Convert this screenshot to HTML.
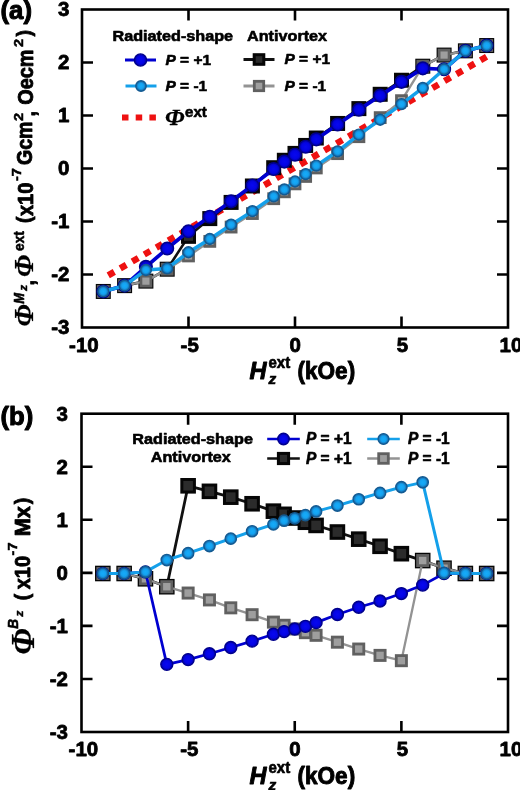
<!DOCTYPE html>
<html><head><meta charset="utf-8"><title>Figure</title>
<style>html,body{margin:0;padding:0;background:#fff}svg{display:block;filter:blur(0.4px)}</style>
</head><body>
<svg width="520" height="790" viewBox="0 0 520 790" font-family='"Liberation Sans", sans-serif' font-weight="bold" fill="#000">
<defs><radialGradient id="glb" cx="50%" cy="50%" r="50%"><stop offset="0" stop-color="#16acfa"/><stop offset="0.5" stop-color="#14a2f0"/><stop offset="0.78" stop-color="#187cc0"/><stop offset="1" stop-color="#145e98"/></radialGradient><radialGradient id="gdb" cx="50%" cy="50%" r="50%"><stop offset="0" stop-color="#0808f0"/><stop offset="0.6" stop-color="#0404e4"/><stop offset="0.85" stop-color="#0202c0"/><stop offset="1" stop-color="#000096"/></radialGradient></defs>
<rect width="520" height="790" fill="#fff"/>
<rect x="82" y="9.5" width="426" height="318.0" fill="none" stroke="#000" stroke-width="2.6"/><path d="M188.50 327.5v-11M188.50 9.5v11" stroke="#000" stroke-width="2.6"/><path d="M295.00 327.5v-11M295.00 9.5v11" stroke="#000" stroke-width="2.6"/><path d="M401.50 327.5v-11M401.50 9.5v11" stroke="#000" stroke-width="2.6"/><path d="M82 274.50h11M508 274.50h-11" stroke="#000" stroke-width="2.6"/><path d="M82 221.50h11M508 221.50h-11" stroke="#000" stroke-width="2.6"/><path d="M82 168.50h11M508 168.50h-11" stroke="#000" stroke-width="2.6"/><path d="M82 115.50h11M508 115.50h-11" stroke="#000" stroke-width="2.6"/><path d="M82 62.50h11M508 62.50h-11" stroke="#000" stroke-width="2.6"/>
<path d="M103.30 278.21L486.70 56.67" stroke="#ee1111" stroke-width="6.5" stroke-dasharray="7 6.87" stroke-dashoffset="-5.7" fill="none"/>
<polyline points="103.30,291.46 124.60,285.63 145.90,281.12 167.20,269.20 188.50,236.34 209.80,218.59 231.10,202.42 252.40,185.99 273.70,167.70 284.35,160.28 295.00,153.40 305.65,145.44 316.30,138.03 337.60,123.45 358.90,108.61 380.20,94.30 401.50,80.25 422.80,66.21 444.10,55.08 465.40,50.84 486.70,45.54" fill="none" stroke="#111" stroke-width="2.6" stroke-linejoin="round"/><rect x="97.30" y="285.46" width="12.00" height="12.0" fill="#2b2b2b" stroke="#060606" stroke-width="3.0"/><rect x="118.60" y="279.63" width="12.00" height="12.0" fill="#2b2b2b" stroke="#060606" stroke-width="3.0"/><rect x="139.90" y="275.12" width="12.00" height="12.0" fill="#2b2b2b" stroke="#060606" stroke-width="3.0"/><rect x="161.20" y="263.20" width="12.00" height="12.0" fill="#2b2b2b" stroke="#060606" stroke-width="3.0"/><rect x="182.50" y="230.34" width="12.00" height="12.0" fill="#2b2b2b" stroke="#060606" stroke-width="3.0"/><rect x="203.80" y="212.59" width="12.00" height="12.0" fill="#2b2b2b" stroke="#060606" stroke-width="3.0"/><rect x="225.10" y="196.42" width="12.00" height="12.0" fill="#2b2b2b" stroke="#060606" stroke-width="3.0"/><rect x="246.40" y="179.99" width="12.00" height="12.0" fill="#2b2b2b" stroke="#060606" stroke-width="3.0"/><rect x="267.70" y="161.70" width="12.00" height="12.0" fill="#2b2b2b" stroke="#060606" stroke-width="3.0"/><rect x="278.35" y="154.28" width="12.00" height="12.0" fill="#2b2b2b" stroke="#060606" stroke-width="3.0"/><rect x="289.00" y="147.40" width="12.00" height="12.0" fill="#2b2b2b" stroke="#060606" stroke-width="3.0"/><rect x="299.65" y="139.44" width="12.00" height="12.0" fill="#2b2b2b" stroke="#060606" stroke-width="3.0"/><rect x="310.30" y="132.03" width="12.00" height="12.0" fill="#2b2b2b" stroke="#060606" stroke-width="3.0"/><rect x="331.60" y="117.45" width="12.00" height="12.0" fill="#2b2b2b" stroke="#060606" stroke-width="3.0"/><rect x="352.90" y="102.61" width="12.00" height="12.0" fill="#2b2b2b" stroke="#060606" stroke-width="3.0"/><rect x="374.20" y="88.30" width="12.00" height="12.0" fill="#2b2b2b" stroke="#060606" stroke-width="3.0"/><rect x="395.50" y="74.25" width="12.00" height="12.0" fill="#2b2b2b" stroke="#060606" stroke-width="3.0"/><rect x="416.80" y="60.21" width="12.00" height="12.0" fill="#2b2b2b" stroke="#060606" stroke-width="3.0"/><rect x="438.10" y="49.08" width="12.00" height="12.0" fill="#2b2b2b" stroke="#060606" stroke-width="3.0"/><rect x="459.40" y="44.84" width="12.00" height="12.0" fill="#2b2b2b" stroke="#060606" stroke-width="3.0"/><rect x="480.70" y="39.54" width="12.00" height="12.0" fill="#2b2b2b" stroke="#060606" stroke-width="3.0"/>
<polyline points="103.30,291.46 124.60,285.63 145.90,281.12 167.20,269.20 188.50,255.95 209.80,241.38 231.10,227.07 252.40,213.55 273.70,198.71 284.35,191.82 295.00,183.87 305.65,176.45 316.30,167.97 337.60,153.66 358.90,136.70 380.20,117.62 401.50,100.66 422.80,66.21 444.10,55.08 465.40,50.84 486.70,45.54" fill="none" stroke="#939393" stroke-width="2.4" stroke-linejoin="round"/><rect x="98.30" y="286.46" width="10.00" height="10.0" fill="#9e9e9e" stroke="#606060" stroke-width="2.8"/><rect x="119.60" y="280.63" width="10.00" height="10.0" fill="#9e9e9e" stroke="#606060" stroke-width="2.8"/><rect x="140.90" y="276.12" width="10.00" height="10.0" fill="#9e9e9e" stroke="#606060" stroke-width="2.8"/><rect x="162.20" y="264.20" width="10.00" height="10.0" fill="#9e9e9e" stroke="#606060" stroke-width="2.8"/><rect x="183.50" y="250.95" width="10.00" height="10.0" fill="#9e9e9e" stroke="#606060" stroke-width="2.8"/><rect x="204.80" y="236.38" width="10.00" height="10.0" fill="#9e9e9e" stroke="#606060" stroke-width="2.8"/><rect x="226.10" y="222.07" width="10.00" height="10.0" fill="#9e9e9e" stroke="#606060" stroke-width="2.8"/><rect x="247.40" y="208.55" width="10.00" height="10.0" fill="#9e9e9e" stroke="#606060" stroke-width="2.8"/><rect x="268.70" y="193.71" width="10.00" height="10.0" fill="#9e9e9e" stroke="#606060" stroke-width="2.8"/><rect x="279.35" y="186.82" width="10.00" height="10.0" fill="#9e9e9e" stroke="#606060" stroke-width="2.8"/><rect x="290.00" y="178.87" width="10.00" height="10.0" fill="#9e9e9e" stroke="#606060" stroke-width="2.8"/><rect x="300.65" y="171.45" width="10.00" height="10.0" fill="#9e9e9e" stroke="#606060" stroke-width="2.8"/><rect x="311.30" y="162.97" width="10.00" height="10.0" fill="#9e9e9e" stroke="#606060" stroke-width="2.8"/><rect x="332.60" y="148.66" width="10.00" height="10.0" fill="#9e9e9e" stroke="#606060" stroke-width="2.8"/><rect x="353.90" y="131.70" width="10.00" height="10.0" fill="#9e9e9e" stroke="#606060" stroke-width="2.8"/><rect x="375.20" y="112.62" width="10.00" height="10.0" fill="#9e9e9e" stroke="#606060" stroke-width="2.8"/><rect x="396.50" y="95.66" width="10.00" height="10.0" fill="#9e9e9e" stroke="#606060" stroke-width="2.8"/><rect x="417.80" y="61.21" width="10.00" height="10.0" fill="#9e9e9e" stroke="#606060" stroke-width="2.8"/><rect x="439.10" y="50.08" width="10.00" height="10.0" fill="#9e9e9e" stroke="#606060" stroke-width="2.8"/><rect x="460.40" y="45.84" width="10.00" height="10.0" fill="#9e9e9e" stroke="#606060" stroke-width="2.8"/><rect x="481.70" y="40.54" width="10.00" height="10.0" fill="#9e9e9e" stroke="#606060" stroke-width="2.8"/>
<polyline points="103.30,291.46 124.60,285.63 145.90,266.81 167.20,248.53 188.50,231.31 209.80,216.73 231.10,201.36 252.40,185.46 273.70,169.03 284.35,161.61 295.00,154.72 305.65,146.77 316.30,139.35 337.60,124.51 358.90,109.67 380.20,95.62 401.50,81.84 422.80,68.33 444.10,69.23 465.40,50.84 486.70,45.54" fill="none" stroke="#0000d0" stroke-width="3.7" stroke-linejoin="round"/><ellipse cx="103.30" cy="291.46" rx="6.35" ry="6.35" fill="url(#gdb)" stroke="#00008c" stroke-width="1.4"/><ellipse cx="124.60" cy="285.63" rx="6.35" ry="6.35" fill="url(#gdb)" stroke="#00008c" stroke-width="1.4"/><ellipse cx="145.90" cy="266.81" rx="6.35" ry="6.35" fill="url(#gdb)" stroke="#00008c" stroke-width="1.4"/><ellipse cx="167.20" cy="248.53" rx="6.35" ry="6.35" fill="url(#gdb)" stroke="#00008c" stroke-width="1.4"/><ellipse cx="188.50" cy="231.31" rx="6.35" ry="6.35" fill="url(#gdb)" stroke="#00008c" stroke-width="1.4"/><ellipse cx="209.80" cy="216.73" rx="6.35" ry="6.35" fill="url(#gdb)" stroke="#00008c" stroke-width="1.4"/><ellipse cx="231.10" cy="201.36" rx="6.35" ry="6.35" fill="url(#gdb)" stroke="#00008c" stroke-width="1.4"/><ellipse cx="252.40" cy="185.46" rx="6.35" ry="6.35" fill="url(#gdb)" stroke="#00008c" stroke-width="1.4"/><ellipse cx="273.70" cy="169.03" rx="6.35" ry="6.35" fill="url(#gdb)" stroke="#00008c" stroke-width="1.4"/><ellipse cx="284.35" cy="161.61" rx="6.35" ry="6.35" fill="url(#gdb)" stroke="#00008c" stroke-width="1.4"/><ellipse cx="295.00" cy="154.72" rx="6.35" ry="6.35" fill="url(#gdb)" stroke="#00008c" stroke-width="1.4"/><ellipse cx="305.65" cy="146.77" rx="6.35" ry="6.35" fill="url(#gdb)" stroke="#00008c" stroke-width="1.4"/><ellipse cx="316.30" cy="139.35" rx="6.35" ry="6.35" fill="url(#gdb)" stroke="#00008c" stroke-width="1.4"/><ellipse cx="337.60" cy="124.51" rx="6.35" ry="6.35" fill="url(#gdb)" stroke="#00008c" stroke-width="1.4"/><ellipse cx="358.90" cy="109.67" rx="6.35" ry="6.35" fill="url(#gdb)" stroke="#00008c" stroke-width="1.4"/><ellipse cx="380.20" cy="95.62" rx="6.35" ry="6.35" fill="url(#gdb)" stroke="#00008c" stroke-width="1.4"/><ellipse cx="401.50" cy="81.84" rx="6.35" ry="6.35" fill="url(#gdb)" stroke="#00008c" stroke-width="1.4"/><ellipse cx="422.80" cy="68.33" rx="6.35" ry="6.35" fill="url(#gdb)" stroke="#00008c" stroke-width="1.4"/><ellipse cx="444.10" cy="69.23" rx="6.35" ry="6.35" fill="url(#gdb)" stroke="#00008c" stroke-width="1.4"/><ellipse cx="465.40" cy="50.84" rx="6.35" ry="6.35" fill="url(#gdb)" stroke="#00008c" stroke-width="1.4"/><ellipse cx="486.70" cy="45.54" rx="6.35" ry="6.35" fill="url(#gdb)" stroke="#00008c" stroke-width="1.4"/>
<polyline points="103.30,291.46 124.60,285.63 145.90,270.00 167.20,268.40 188.50,252.24 209.80,238.99 231.10,224.68 252.40,211.16 273.70,196.33 284.35,189.43 295.00,181.49 305.65,174.06 316.30,165.59 337.60,151.28 358.90,134.58 380.20,119.74 401.50,104.11 422.80,87.94 444.10,69.23 465.40,50.84 486.70,45.54" fill="none" stroke="#14a0ea" stroke-width="3.5" stroke-linejoin="round"/><ellipse cx="103.30" cy="291.46" rx="5.45" ry="5.45" fill="url(#glb)" stroke="#135a92" stroke-width="1.4"/><ellipse cx="124.60" cy="285.63" rx="5.45" ry="5.45" fill="url(#glb)" stroke="#135a92" stroke-width="1.4"/><ellipse cx="145.90" cy="270.00" rx="5.45" ry="5.45" fill="url(#glb)" stroke="#135a92" stroke-width="1.4"/><ellipse cx="167.20" cy="268.40" rx="5.45" ry="5.45" fill="url(#glb)" stroke="#135a92" stroke-width="1.4"/><ellipse cx="188.50" cy="252.24" rx="5.45" ry="5.45" fill="url(#glb)" stroke="#135a92" stroke-width="1.4"/><ellipse cx="209.80" cy="238.99" rx="5.45" ry="5.45" fill="url(#glb)" stroke="#135a92" stroke-width="1.4"/><ellipse cx="231.10" cy="224.68" rx="5.45" ry="5.45" fill="url(#glb)" stroke="#135a92" stroke-width="1.4"/><ellipse cx="252.40" cy="211.16" rx="5.45" ry="5.45" fill="url(#glb)" stroke="#135a92" stroke-width="1.4"/><ellipse cx="273.70" cy="196.33" rx="5.45" ry="5.45" fill="url(#glb)" stroke="#135a92" stroke-width="1.4"/><ellipse cx="284.35" cy="189.43" rx="5.45" ry="5.45" fill="url(#glb)" stroke="#135a92" stroke-width="1.4"/><ellipse cx="295.00" cy="181.49" rx="5.45" ry="5.45" fill="url(#glb)" stroke="#135a92" stroke-width="1.4"/><ellipse cx="305.65" cy="174.06" rx="5.45" ry="5.45" fill="url(#glb)" stroke="#135a92" stroke-width="1.4"/><ellipse cx="316.30" cy="165.59" rx="5.45" ry="5.45" fill="url(#glb)" stroke="#135a92" stroke-width="1.4"/><ellipse cx="337.60" cy="151.28" rx="5.45" ry="5.45" fill="url(#glb)" stroke="#135a92" stroke-width="1.4"/><ellipse cx="358.90" cy="134.58" rx="5.45" ry="5.45" fill="url(#glb)" stroke="#135a92" stroke-width="1.4"/><ellipse cx="380.20" cy="119.74" rx="5.45" ry="5.45" fill="url(#glb)" stroke="#135a92" stroke-width="1.4"/><ellipse cx="401.50" cy="104.11" rx="5.45" ry="5.45" fill="url(#glb)" stroke="#135a92" stroke-width="1.4"/><ellipse cx="422.80" cy="87.94" rx="5.45" ry="5.45" fill="url(#glb)" stroke="#135a92" stroke-width="1.4"/><ellipse cx="444.10" cy="69.23" rx="5.45" ry="5.45" fill="url(#glb)" stroke="#135a92" stroke-width="1.4"/><ellipse cx="465.40" cy="50.84" rx="5.45" ry="5.45" fill="url(#glb)" stroke="#135a92" stroke-width="1.4"/><ellipse cx="486.70" cy="45.54" rx="5.45" ry="5.45" fill="url(#glb)" stroke="#135a92" stroke-width="1.4"/>
<text transform="translate(69.50,16.40) scale(1.05,1)" font-size="19.5" text-anchor="end" stroke="#000" stroke-width="0.78" stroke-linejoin="round" >3</text>
<text transform="translate(69.50,69.40) scale(1.05,1)" font-size="19.5" text-anchor="end" stroke="#000" stroke-width="0.78" stroke-linejoin="round" >2</text>
<text transform="translate(69.50,122.40) scale(1.05,1)" font-size="19.5" text-anchor="end" stroke="#000" stroke-width="0.78" stroke-linejoin="round" >1</text>
<text transform="translate(69.50,175.40) scale(1.05,1)" font-size="19.5" text-anchor="end" stroke="#000" stroke-width="0.78" stroke-linejoin="round" >0</text>
<text transform="translate(69.50,228.40) scale(1.05,1)" font-size="19.5" text-anchor="end" stroke="#000" stroke-width="0.78" stroke-linejoin="round" >-1</text>
<text transform="translate(69.50,281.40) scale(1.05,1)" font-size="19.5" text-anchor="end" stroke="#000" stroke-width="0.78" stroke-linejoin="round" >-2</text>
<text transform="translate(69.50,334.40) scale(1.05,1)" font-size="19.5" text-anchor="end" stroke="#000" stroke-width="0.78" stroke-linejoin="round" >-3</text>
<text transform="translate(83.90,351.80) scale(1.05,1)" font-size="19.5" text-anchor="middle" stroke="#000" stroke-width="0.78" stroke-linejoin="round" >-10</text>
<text transform="translate(189.70,351.80) scale(1.05,1)" font-size="19.5" text-anchor="middle" stroke="#000" stroke-width="0.78" stroke-linejoin="round" >-5</text>
<text transform="translate(295.20,351.80) scale(1.05,1)" font-size="19.5" text-anchor="middle" stroke="#000" stroke-width="0.78" stroke-linejoin="round" >0</text>
<text transform="translate(402.50,351.80) scale(1.05,1)" font-size="19.5" text-anchor="middle" stroke="#000" stroke-width="0.78" stroke-linejoin="round" >5</text>
<text transform="translate(511.00,351.80) scale(1.05,1)" font-size="19.5" text-anchor="middle" stroke="#000" stroke-width="0.78" stroke-linejoin="round" >10</text>
<text transform="translate(0.50,19.20) scale(1.03,1)" font-size="25" text-anchor="start" stroke="#000" stroke-width="1.00" stroke-linejoin="round" >(a)</text>
<text transform="translate(249.50,378.80) scale(1.0,1)" font-size="23.5" text-anchor="start" stroke="#000" stroke-width="0.94" stroke-linejoin="round" font-style="italic">H</text>
<text transform="translate(268.50,367.80) scale(0.94,1)" font-size="16" text-anchor="start" stroke="#000" stroke-width="0.64" stroke-linejoin="round" >ext</text>
<text transform="translate(268.50,384.40) scale(1.0,1)" font-size="15.5" text-anchor="start" stroke="#000" stroke-width="0.62" stroke-linejoin="round" font-style="italic">z</text>
<text transform="translate(297.50,378.80) scale(0.94,1)" font-size="24" text-anchor="start" stroke="#000" stroke-width="0.96" stroke-linejoin="round" >(kOe)</text>
<text transform="translate(32.70,326.50) rotate(-90) scale(1,1)" font-size="28" text-anchor="start" stroke="#000" stroke-width="0.25" stroke-linejoin="round" font-family='"Liberation Serif", serif' font-style="italic">Φ</text>
<text transform="translate(23.70,303.80) rotate(-90) scale(0.86,1)" font-size="15" text-anchor="start" stroke="#000" stroke-width="0.60" stroke-linejoin="round" font-style="italic">M</text>
<text transform="translate(27.20,291.00) rotate(-90) scale(1.08,1)" font-size="11.5" text-anchor="start" stroke="#000" stroke-width="0.46" stroke-linejoin="round" font-style="italic">z</text>
<text transform="translate(33.70,285.50) rotate(-90) scale(0.935,1)" font-size="21.3" text-anchor="start" stroke="#000" stroke-width="0.85" stroke-linejoin="round" >,</text>
<text transform="translate(32.70,277.00) rotate(-90) scale(1,1)" font-size="28" text-anchor="start" stroke="#000" stroke-width="0.25" stroke-linejoin="round" font-family='"Liberation Serif", serif' font-style="italic">Φ</text>
<text transform="translate(23.70,251.00) rotate(-90) scale(0.98,1)" font-size="14" text-anchor="start" stroke="#000" stroke-width="0.56" stroke-linejoin="round" >ext</text>
<text transform="translate(31.20,223.00) rotate(-90) scale(1.0,1)" font-size="19.5" text-anchor="start" stroke="#000" stroke-width="0.78" stroke-linejoin="round" >(</text>
<text transform="translate(32.70,216.00) rotate(-90) scale(0.935,1)" font-size="21.3" text-anchor="start" stroke="#000" stroke-width="0.85" stroke-linejoin="round" >x10</text>
<text transform="translate(20.70,181.00) rotate(-90) scale(1.08,1)" font-size="13.5" text-anchor="start" stroke="#000" stroke-width="0.54" stroke-linejoin="round" >-7</text>
<text transform="translate(32.10,165.00) rotate(-90) scale(0.92,1)" font-size="21.3" text-anchor="start" stroke="#000" stroke-width="0.85" stroke-linejoin="round" >Gcm</text>
<text transform="translate(22.70,121.00) rotate(-90) scale(1.08,1)" font-size="13.5" text-anchor="start" stroke="#000" stroke-width="0.54" stroke-linejoin="round" >2</text>
<text transform="translate(35.20,116.50) rotate(-90) scale(0.935,1)" font-size="21.3" text-anchor="start" stroke="#000" stroke-width="0.85" stroke-linejoin="round" >,</text>
<text transform="translate(32.70,104.80) rotate(-90) scale(0.935,1)" font-size="21.3" text-anchor="start" stroke="#000" stroke-width="0.85" stroke-linejoin="round" >Oecm</text>
<text transform="translate(22.70,47.00) rotate(-90) scale(1.08,1)" font-size="13.5" text-anchor="start" stroke="#000" stroke-width="0.54" stroke-linejoin="round" >2</text>
<text transform="translate(30.70,36.50) rotate(-90) scale(1.0,1)" font-size="19.5" text-anchor="start" stroke="#000" stroke-width="0.78" stroke-linejoin="round" >)</text>
<text transform="translate(112.50,40.70) scale(1.08,1)" font-size="15" text-anchor="start" stroke="#000" stroke-width="0.60" stroke-linejoin="round" >Radiated-shape</text>
<text transform="translate(247.00,40.50) scale(1.08,1)" font-size="15" text-anchor="start" stroke="#000" stroke-width="0.60" stroke-linejoin="round" >Antivortex</text>
<path d="M125.0 60h31.0" stroke="#0000d0" stroke-width="3.0"/>
<ellipse cx="140.50" cy="60.00" rx="6.10" ry="6.10" fill="url(#gdb)" stroke="#00008c" stroke-width="1.4"/>
<text transform="translate(165.50,64.80) scale(1.03,1)" font-size="15" text-anchor="start" stroke="#000" stroke-width="0.60" stroke-linejoin="round" ><tspan font-style="italic">P</tspan> = +1</text>
<path d="M125.5 86h31.0" stroke="#14a0ea" stroke-width="3.0"/>
<ellipse cx="141.00" cy="86.00" rx="5.20" ry="5.20" fill="url(#glb)" stroke="#135a92" stroke-width="1.4"/>
<text transform="translate(165.50,90.80) scale(1.03,1)" font-size="15" text-anchor="start" stroke="#000" stroke-width="0.60" stroke-linejoin="round" ><tspan font-style="italic">P</tspan> = -1</text>
<path d="M243.5 59.5h31.0" stroke="#111" stroke-width="3.0"/>
<rect x="254.20" y="54.70" width="9.60" height="9.6" fill="#2b2b2b" stroke="#060606" stroke-width="3.0"/>
<text transform="translate(284.50,64.30) scale(1.03,1)" font-size="15" text-anchor="start" stroke="#000" stroke-width="0.60" stroke-linejoin="round" ><tspan font-style="italic">P</tspan> = +1</text>
<path d="M243.5 86h31.0" stroke="#939393" stroke-width="3.0"/>
<rect x="254.30" y="81.30" width="9.40" height="9.4" fill="#9e9e9e" stroke="#606060" stroke-width="2.8"/>
<text transform="translate(284.50,90.80) scale(1.03,1)" font-size="15" text-anchor="start" stroke="#000" stroke-width="0.60" stroke-linejoin="round" ><tspan font-style="italic">P</tspan> = -1</text>
<path d="M122 117.5h36" stroke="#ee1111" stroke-width="6" stroke-dasharray="6.5 7.2"/>
<text transform="translate(165.00,125.00) scale(1.08,1)" font-size="23" text-anchor="start" stroke="#000" stroke-width="0.25" stroke-linejoin="round" font-family='"Liberation Serif", serif' font-style="italic">Φ</text>
<text transform="translate(185.00,116.50) scale(1.08,1)" font-size="14" text-anchor="start" stroke="#000" stroke-width="0.56" stroke-linejoin="round" >ext</text>
<rect x="81.5" y="413.7" width="426.5" height="318.3" fill="none" stroke="#000" stroke-width="2.6"/><path d="M188.12 732v-11M188.12 413.7v11" stroke="#000" stroke-width="2.6"/><path d="M294.75 732v-11M294.75 413.7v11" stroke="#000" stroke-width="2.6"/><path d="M401.38 732v-11M401.38 413.7v11" stroke="#000" stroke-width="2.6"/><path d="M81.5 678.95h11M508 678.95h-11" stroke="#000" stroke-width="2.6"/><path d="M81.5 625.90h11M508 625.90h-11" stroke="#000" stroke-width="2.6"/><path d="M81.5 572.85h11M508 572.85h-11" stroke="#000" stroke-width="2.6"/><path d="M81.5 519.80h11M508 519.80h-11" stroke="#000" stroke-width="2.6"/><path d="M81.5 466.75h11M508 466.75h-11" stroke="#000" stroke-width="2.6"/>
<polyline points="102.83,573.50 124.15,573.50 145.47,578.78 166.80,586.71 188.12,485.80 209.45,491.34 230.78,497.16 252.10,503.76 273.43,511.16 284.09,514.33 294.75,518.02 305.41,522.25 316.07,525.42 337.40,532.03 358.73,539.16 380.05,546.29 401.38,553.69 422.70,560.56 444.02,568.22 465.35,573.50 486.68,573.50" fill="none" stroke="#111" stroke-width="2.8" stroke-linejoin="round"/><rect x="96.53" y="567.20" width="12.60" height="12.6" fill="#2b2b2b" stroke="#060606" stroke-width="3.0"/><rect x="117.85" y="567.20" width="12.60" height="12.6" fill="#2b2b2b" stroke="#060606" stroke-width="3.0"/><rect x="139.17" y="572.48" width="12.60" height="12.6" fill="#2b2b2b" stroke="#060606" stroke-width="3.0"/><rect x="160.50" y="580.41" width="12.60" height="12.6" fill="#2b2b2b" stroke="#060606" stroke-width="3.0"/><rect x="181.82" y="479.50" width="12.60" height="12.6" fill="#2b2b2b" stroke="#060606" stroke-width="3.0"/><rect x="203.15" y="485.04" width="12.60" height="12.6" fill="#2b2b2b" stroke="#060606" stroke-width="3.0"/><rect x="224.47" y="490.86" width="12.60" height="12.6" fill="#2b2b2b" stroke="#060606" stroke-width="3.0"/><rect x="245.80" y="497.46" width="12.60" height="12.6" fill="#2b2b2b" stroke="#060606" stroke-width="3.0"/><rect x="267.12" y="504.86" width="12.60" height="12.6" fill="#2b2b2b" stroke="#060606" stroke-width="3.0"/><rect x="277.79" y="508.03" width="12.60" height="12.6" fill="#2b2b2b" stroke="#060606" stroke-width="3.0"/><rect x="288.45" y="511.72" width="12.60" height="12.6" fill="#2b2b2b" stroke="#060606" stroke-width="3.0"/><rect x="299.11" y="515.95" width="12.60" height="12.6" fill="#2b2b2b" stroke="#060606" stroke-width="3.0"/><rect x="309.77" y="519.12" width="12.60" height="12.6" fill="#2b2b2b" stroke="#060606" stroke-width="3.0"/><rect x="331.10" y="525.73" width="12.60" height="12.6" fill="#2b2b2b" stroke="#060606" stroke-width="3.0"/><rect x="352.43" y="532.86" width="12.60" height="12.6" fill="#2b2b2b" stroke="#060606" stroke-width="3.0"/><rect x="373.75" y="539.99" width="12.60" height="12.6" fill="#2b2b2b" stroke="#060606" stroke-width="3.0"/><rect x="395.07" y="547.39" width="12.60" height="12.6" fill="#2b2b2b" stroke="#060606" stroke-width="3.0"/><rect x="416.40" y="554.26" width="12.60" height="12.6" fill="#2b2b2b" stroke="#060606" stroke-width="3.0"/><rect x="437.72" y="561.92" width="12.60" height="12.6" fill="#2b2b2b" stroke="#060606" stroke-width="3.0"/><rect x="459.05" y="567.20" width="12.60" height="12.6" fill="#2b2b2b" stroke="#060606" stroke-width="3.0"/><rect x="480.38" y="567.20" width="12.60" height="12.6" fill="#2b2b2b" stroke="#060606" stroke-width="3.0"/>
<polyline points="102.83,573.50 124.15,573.50 145.47,578.78 166.80,586.71 188.12,593.05 209.45,599.92 230.78,607.84 252.10,614.71 273.43,622.11 284.09,625.28 294.75,628.98 305.41,632.67 316.07,635.31 337.40,642.18 358.73,649.05 380.05,655.39 401.38,660.68 422.70,560.56 444.02,568.22 465.35,573.50 486.68,573.50" fill="none" stroke="#939393" stroke-width="2.3" stroke-linejoin="round"/><rect x="97.73" y="568.40" width="10.20" height="10.2" fill="#9e9e9e" stroke="#606060" stroke-width="2.8"/><rect x="119.05" y="568.40" width="10.20" height="10.2" fill="#9e9e9e" stroke="#606060" stroke-width="2.8"/><rect x="140.38" y="573.68" width="10.20" height="10.2" fill="#9e9e9e" stroke="#606060" stroke-width="2.8"/><rect x="161.70" y="581.61" width="10.20" height="10.2" fill="#9e9e9e" stroke="#606060" stroke-width="2.8"/><rect x="183.03" y="587.95" width="10.20" height="10.2" fill="#9e9e9e" stroke="#606060" stroke-width="2.8"/><rect x="204.35" y="594.82" width="10.20" height="10.2" fill="#9e9e9e" stroke="#606060" stroke-width="2.8"/><rect x="225.68" y="602.74" width="10.20" height="10.2" fill="#9e9e9e" stroke="#606060" stroke-width="2.8"/><rect x="247.00" y="609.61" width="10.20" height="10.2" fill="#9e9e9e" stroke="#606060" stroke-width="2.8"/><rect x="268.32" y="617.01" width="10.20" height="10.2" fill="#9e9e9e" stroke="#606060" stroke-width="2.8"/><rect x="278.99" y="620.18" width="10.20" height="10.2" fill="#9e9e9e" stroke="#606060" stroke-width="2.8"/><rect x="289.65" y="623.88" width="10.20" height="10.2" fill="#9e9e9e" stroke="#606060" stroke-width="2.8"/><rect x="300.31" y="627.57" width="10.20" height="10.2" fill="#9e9e9e" stroke="#606060" stroke-width="2.8"/><rect x="310.97" y="630.21" width="10.20" height="10.2" fill="#9e9e9e" stroke="#606060" stroke-width="2.8"/><rect x="332.30" y="637.08" width="10.20" height="10.2" fill="#9e9e9e" stroke="#606060" stroke-width="2.8"/><rect x="353.62" y="643.95" width="10.20" height="10.2" fill="#9e9e9e" stroke="#606060" stroke-width="2.8"/><rect x="374.95" y="650.29" width="10.20" height="10.2" fill="#9e9e9e" stroke="#606060" stroke-width="2.8"/><rect x="396.27" y="655.58" width="10.20" height="10.2" fill="#9e9e9e" stroke="#606060" stroke-width="2.8"/><rect x="417.60" y="555.46" width="10.20" height="10.2" fill="#9e9e9e" stroke="#606060" stroke-width="2.8"/><rect x="438.92" y="563.12" width="10.20" height="10.2" fill="#9e9e9e" stroke="#606060" stroke-width="2.8"/><rect x="460.25" y="568.40" width="10.20" height="10.2" fill="#9e9e9e" stroke="#606060" stroke-width="2.8"/><rect x="481.57" y="568.40" width="10.20" height="10.2" fill="#9e9e9e" stroke="#606060" stroke-width="2.8"/>
<polyline points="102.83,573.50 124.15,573.50 145.47,571.91 166.80,664.37 188.12,659.62 209.45,653.81 230.78,647.47 252.10,641.13 273.43,634.26 284.09,631.62 294.75,628.98 305.41,626.33 316.07,622.63 337.40,614.45 358.73,607.31 380.05,600.97 401.38,593.58 422.70,585.12 444.02,573.50 465.35,573.50 486.68,573.50" fill="none" stroke="#0000d0" stroke-width="2.7" stroke-linejoin="round"/><ellipse cx="102.83" cy="573.50" rx="6.00" ry="6.00" fill="url(#gdb)" stroke="#00008c" stroke-width="1.4"/><ellipse cx="124.15" cy="573.50" rx="6.00" ry="6.00" fill="url(#gdb)" stroke="#00008c" stroke-width="1.4"/><ellipse cx="145.47" cy="571.91" rx="6.00" ry="6.00" fill="url(#gdb)" stroke="#00008c" stroke-width="1.4"/><ellipse cx="166.80" cy="664.37" rx="6.00" ry="6.00" fill="url(#gdb)" stroke="#00008c" stroke-width="1.4"/><ellipse cx="188.12" cy="659.62" rx="6.00" ry="6.00" fill="url(#gdb)" stroke="#00008c" stroke-width="1.4"/><ellipse cx="209.45" cy="653.81" rx="6.00" ry="6.00" fill="url(#gdb)" stroke="#00008c" stroke-width="1.4"/><ellipse cx="230.78" cy="647.47" rx="6.00" ry="6.00" fill="url(#gdb)" stroke="#00008c" stroke-width="1.4"/><ellipse cx="252.10" cy="641.13" rx="6.00" ry="6.00" fill="url(#gdb)" stroke="#00008c" stroke-width="1.4"/><ellipse cx="273.43" cy="634.26" rx="6.00" ry="6.00" fill="url(#gdb)" stroke="#00008c" stroke-width="1.4"/><ellipse cx="284.09" cy="631.62" rx="6.00" ry="6.00" fill="url(#gdb)" stroke="#00008c" stroke-width="1.4"/><ellipse cx="294.75" cy="628.98" rx="6.00" ry="6.00" fill="url(#gdb)" stroke="#00008c" stroke-width="1.4"/><ellipse cx="305.41" cy="626.33" rx="6.00" ry="6.00" fill="url(#gdb)" stroke="#00008c" stroke-width="1.4"/><ellipse cx="316.07" cy="622.63" rx="6.00" ry="6.00" fill="url(#gdb)" stroke="#00008c" stroke-width="1.4"/><ellipse cx="337.40" cy="614.45" rx="6.00" ry="6.00" fill="url(#gdb)" stroke="#00008c" stroke-width="1.4"/><ellipse cx="358.73" cy="607.31" rx="6.00" ry="6.00" fill="url(#gdb)" stroke="#00008c" stroke-width="1.4"/><ellipse cx="380.05" cy="600.97" rx="6.00" ry="6.00" fill="url(#gdb)" stroke="#00008c" stroke-width="1.4"/><ellipse cx="401.38" cy="593.58" rx="6.00" ry="6.00" fill="url(#gdb)" stroke="#00008c" stroke-width="1.4"/><ellipse cx="422.70" cy="585.12" rx="6.00" ry="6.00" fill="url(#gdb)" stroke="#00008c" stroke-width="1.4"/><ellipse cx="444.02" cy="573.50" rx="6.00" ry="6.00" fill="url(#gdb)" stroke="#00008c" stroke-width="1.4"/><ellipse cx="465.35" cy="573.50" rx="6.00" ry="6.00" fill="url(#gdb)" stroke="#00008c" stroke-width="1.4"/><ellipse cx="486.68" cy="573.50" rx="6.00" ry="6.00" fill="url(#gdb)" stroke="#00008c" stroke-width="1.4"/>
<polyline points="102.83,573.50 124.15,573.50 145.47,571.91 166.80,560.03 188.12,553.16 209.45,546.03 230.78,538.63 252.10,531.23 273.43,524.37 284.09,520.67 294.75,518.29 305.41,515.12 316.07,511.42 337.40,505.61 358.73,499.27 380.05,492.93 401.38,487.12 422.70,482.36 444.02,572.97 465.35,573.50 486.68,573.50" fill="none" stroke="#14a0ea" stroke-width="3.0" stroke-linejoin="round"/><ellipse cx="102.83" cy="573.50" rx="5.65" ry="5.65" fill="url(#glb)" stroke="#135a92" stroke-width="1.4"/><ellipse cx="124.15" cy="573.50" rx="5.65" ry="5.65" fill="url(#glb)" stroke="#135a92" stroke-width="1.4"/><ellipse cx="145.47" cy="571.91" rx="5.65" ry="5.65" fill="url(#glb)" stroke="#135a92" stroke-width="1.4"/><ellipse cx="166.80" cy="560.03" rx="5.65" ry="5.65" fill="url(#glb)" stroke="#135a92" stroke-width="1.4"/><ellipse cx="188.12" cy="553.16" rx="5.65" ry="5.65" fill="url(#glb)" stroke="#135a92" stroke-width="1.4"/><ellipse cx="209.45" cy="546.03" rx="5.65" ry="5.65" fill="url(#glb)" stroke="#135a92" stroke-width="1.4"/><ellipse cx="230.78" cy="538.63" rx="5.65" ry="5.65" fill="url(#glb)" stroke="#135a92" stroke-width="1.4"/><ellipse cx="252.10" cy="531.23" rx="5.65" ry="5.65" fill="url(#glb)" stroke="#135a92" stroke-width="1.4"/><ellipse cx="273.43" cy="524.37" rx="5.65" ry="5.65" fill="url(#glb)" stroke="#135a92" stroke-width="1.4"/><ellipse cx="284.09" cy="520.67" rx="5.65" ry="5.65" fill="url(#glb)" stroke="#135a92" stroke-width="1.4"/><ellipse cx="294.75" cy="518.29" rx="5.65" ry="5.65" fill="url(#glb)" stroke="#135a92" stroke-width="1.4"/><ellipse cx="305.41" cy="515.12" rx="5.65" ry="5.65" fill="url(#glb)" stroke="#135a92" stroke-width="1.4"/><ellipse cx="316.07" cy="511.42" rx="5.65" ry="5.65" fill="url(#glb)" stroke="#135a92" stroke-width="1.4"/><ellipse cx="337.40" cy="505.61" rx="5.65" ry="5.65" fill="url(#glb)" stroke="#135a92" stroke-width="1.4"/><ellipse cx="358.73" cy="499.27" rx="5.65" ry="5.65" fill="url(#glb)" stroke="#135a92" stroke-width="1.4"/><ellipse cx="380.05" cy="492.93" rx="5.65" ry="5.65" fill="url(#glb)" stroke="#135a92" stroke-width="1.4"/><ellipse cx="401.38" cy="487.12" rx="5.65" ry="5.65" fill="url(#glb)" stroke="#135a92" stroke-width="1.4"/><ellipse cx="422.70" cy="482.36" rx="5.65" ry="5.65" fill="url(#glb)" stroke="#135a92" stroke-width="1.4"/><ellipse cx="444.02" cy="572.97" rx="5.65" ry="5.65" fill="url(#glb)" stroke="#135a92" stroke-width="1.4"/><ellipse cx="465.35" cy="573.50" rx="5.65" ry="5.65" fill="url(#glb)" stroke="#135a92" stroke-width="1.4"/><ellipse cx="486.68" cy="573.50" rx="5.65" ry="5.65" fill="url(#glb)" stroke="#135a92" stroke-width="1.4"/>
<text transform="translate(68.00,420.60) scale(1.05,1)" font-size="19.5" text-anchor="end" stroke="#000" stroke-width="0.78" stroke-linejoin="round" >3</text>
<text transform="translate(68.00,473.65) scale(1.05,1)" font-size="19.5" text-anchor="end" stroke="#000" stroke-width="0.78" stroke-linejoin="round" >2</text>
<text transform="translate(68.00,526.70) scale(1.05,1)" font-size="19.5" text-anchor="end" stroke="#000" stroke-width="0.78" stroke-linejoin="round" >1</text>
<text transform="translate(68.00,579.75) scale(1.05,1)" font-size="19.5" text-anchor="end" stroke="#000" stroke-width="0.78" stroke-linejoin="round" >0</text>
<text transform="translate(68.00,632.80) scale(1.05,1)" font-size="19.5" text-anchor="end" stroke="#000" stroke-width="0.78" stroke-linejoin="round" >-1</text>
<text transform="translate(68.00,685.85) scale(1.05,1)" font-size="19.5" text-anchor="end" stroke="#000" stroke-width="0.78" stroke-linejoin="round" >-2</text>
<text transform="translate(68.00,738.90) scale(1.05,1)" font-size="19.5" text-anchor="end" stroke="#000" stroke-width="0.78" stroke-linejoin="round" >-3</text>
<text transform="translate(83.40,756.30) scale(1.05,1)" font-size="19.5" text-anchor="middle" stroke="#000" stroke-width="0.78" stroke-linejoin="round" >-10</text>
<text transform="translate(189.32,756.30) scale(1.05,1)" font-size="19.5" text-anchor="middle" stroke="#000" stroke-width="0.78" stroke-linejoin="round" >-5</text>
<text transform="translate(294.95,756.30) scale(1.05,1)" font-size="19.5" text-anchor="middle" stroke="#000" stroke-width="0.78" stroke-linejoin="round" >0</text>
<text transform="translate(402.38,756.30) scale(1.05,1)" font-size="19.5" text-anchor="middle" stroke="#000" stroke-width="0.78" stroke-linejoin="round" >5</text>
<text transform="translate(511.00,756.30) scale(1.05,1)" font-size="19.5" text-anchor="middle" stroke="#000" stroke-width="0.78" stroke-linejoin="round" >10</text>
<text transform="translate(0.50,424.70) scale(1.03,1)" font-size="25" text-anchor="start" stroke="#000" stroke-width="1.00" stroke-linejoin="round" >(b)</text>
<text transform="translate(249.50,784.30) scale(1.0,1)" font-size="23.5" text-anchor="start" stroke="#000" stroke-width="0.94" stroke-linejoin="round" font-style="italic">H</text>
<text transform="translate(268.50,773.30) scale(0.94,1)" font-size="16" text-anchor="start" stroke="#000" stroke-width="0.64" stroke-linejoin="round" >ext</text>
<text transform="translate(268.50,789.90) scale(1.0,1)" font-size="15.5" text-anchor="start" stroke="#000" stroke-width="0.62" stroke-linejoin="round" font-style="italic">z</text>
<text transform="translate(297.50,784.30) scale(0.94,1)" font-size="24" text-anchor="start" stroke="#000" stroke-width="0.96" stroke-linejoin="round" >(kOe)</text>
<text transform="translate(34.40,654.50) rotate(-90) scale(1,1)" font-size="33" text-anchor="start" stroke="#000" stroke-width="0.25" stroke-linejoin="round" font-family='"Liberation Serif", serif' font-style="italic">Φ</text>
<text transform="translate(17.50,628.80) rotate(-90) scale(0.9,1)" font-size="15" text-anchor="start" stroke="#000" stroke-width="0.60" stroke-linejoin="round" font-style="italic">B</text>
<text transform="translate(22.70,616.80) rotate(-90) scale(1.08,1)" font-size="11.5" text-anchor="start" stroke="#000" stroke-width="0.46" stroke-linejoin="round" font-style="italic">z</text>
<text transform="translate(28.70,600.30) rotate(-90) scale(1.0,1)" font-size="19.5" text-anchor="start" stroke="#000" stroke-width="0.78" stroke-linejoin="round" >(</text>
<text transform="translate(30.30,589.20) rotate(-90) scale(0.935,1)" font-size="21.3" text-anchor="start" stroke="#000" stroke-width="0.85" stroke-linejoin="round" >x10</text>
<text transform="translate(16.70,555.40) rotate(-90) scale(1.08,1)" font-size="13.5" text-anchor="start" stroke="#000" stroke-width="0.54" stroke-linejoin="round" >-7</text>
<text transform="translate(30.30,536.30) rotate(-90) scale(1.02,1)" font-size="21.3" text-anchor="start" stroke="#000" stroke-width="0.85" stroke-linejoin="round" >Mx</text>
<text transform="translate(29.30,504.30) rotate(-90) scale(1.0,1)" font-size="19.5" text-anchor="start" stroke="#000" stroke-width="0.78" stroke-linejoin="round" >)</text>
<text transform="translate(132.30,444.00) scale(1.08,1)" font-size="15" text-anchor="start" stroke="#000" stroke-width="0.60" stroke-linejoin="round" >Radiated-shape</text>
<text transform="translate(190.80,462.00) scale(1.08,1)" font-size="15" text-anchor="middle" stroke="#000" stroke-width="0.60" stroke-linejoin="round" >Antivortex</text>
<path d="M267.2 439h32.6" stroke="#0000d0" stroke-width="2.5"/>
<ellipse cx="283.50" cy="439.00" rx="5.75" ry="5.75" fill="url(#gdb)" stroke="#00008c" stroke-width="1.4"/>
<text transform="translate(306.00,444.16) scale(0.99,1)" font-size="15.6" text-anchor="start" stroke="#000" stroke-width="0.62" stroke-linejoin="round" ><tspan font-style="italic">P</tspan> = +1</text>
<path d="M267.2 458.5h32.6" stroke="#111" stroke-width="2.5"/>
<rect x="278.40" y="453.40" width="10.20" height="10.2" fill="#2b2b2b" stroke="#060606" stroke-width="3.0"/>
<text transform="translate(306.00,463.66) scale(0.99,1)" font-size="15.6" text-anchor="start" stroke="#000" stroke-width="0.62" stroke-linejoin="round" ><tspan font-style="italic">P</tspan> = +1</text>
<path d="M367.2 439h32.6" stroke="#14a0ea" stroke-width="2.5"/>
<ellipse cx="383.50" cy="439.00" rx="5.40" ry="5.40" fill="url(#glb)" stroke="#135a92" stroke-width="1.4"/>
<text transform="translate(408.00,444.16) scale(0.99,1)" font-size="15.6" text-anchor="start" stroke="#000" stroke-width="0.62" stroke-linejoin="round" ><tspan font-style="italic">P</tspan> = -1</text>
<path d="M367.2 458.5h32.6" stroke="#939393" stroke-width="2.5"/>
<rect x="378.70" y="453.70" width="9.60" height="9.6" fill="#9e9e9e" stroke="#606060" stroke-width="2.8"/>
<text transform="translate(408.00,463.66) scale(0.99,1)" font-size="15.6" text-anchor="start" stroke="#000" stroke-width="0.62" stroke-linejoin="round" ><tspan font-style="italic">P</tspan> = -1</text>
</svg>
</body></html>
